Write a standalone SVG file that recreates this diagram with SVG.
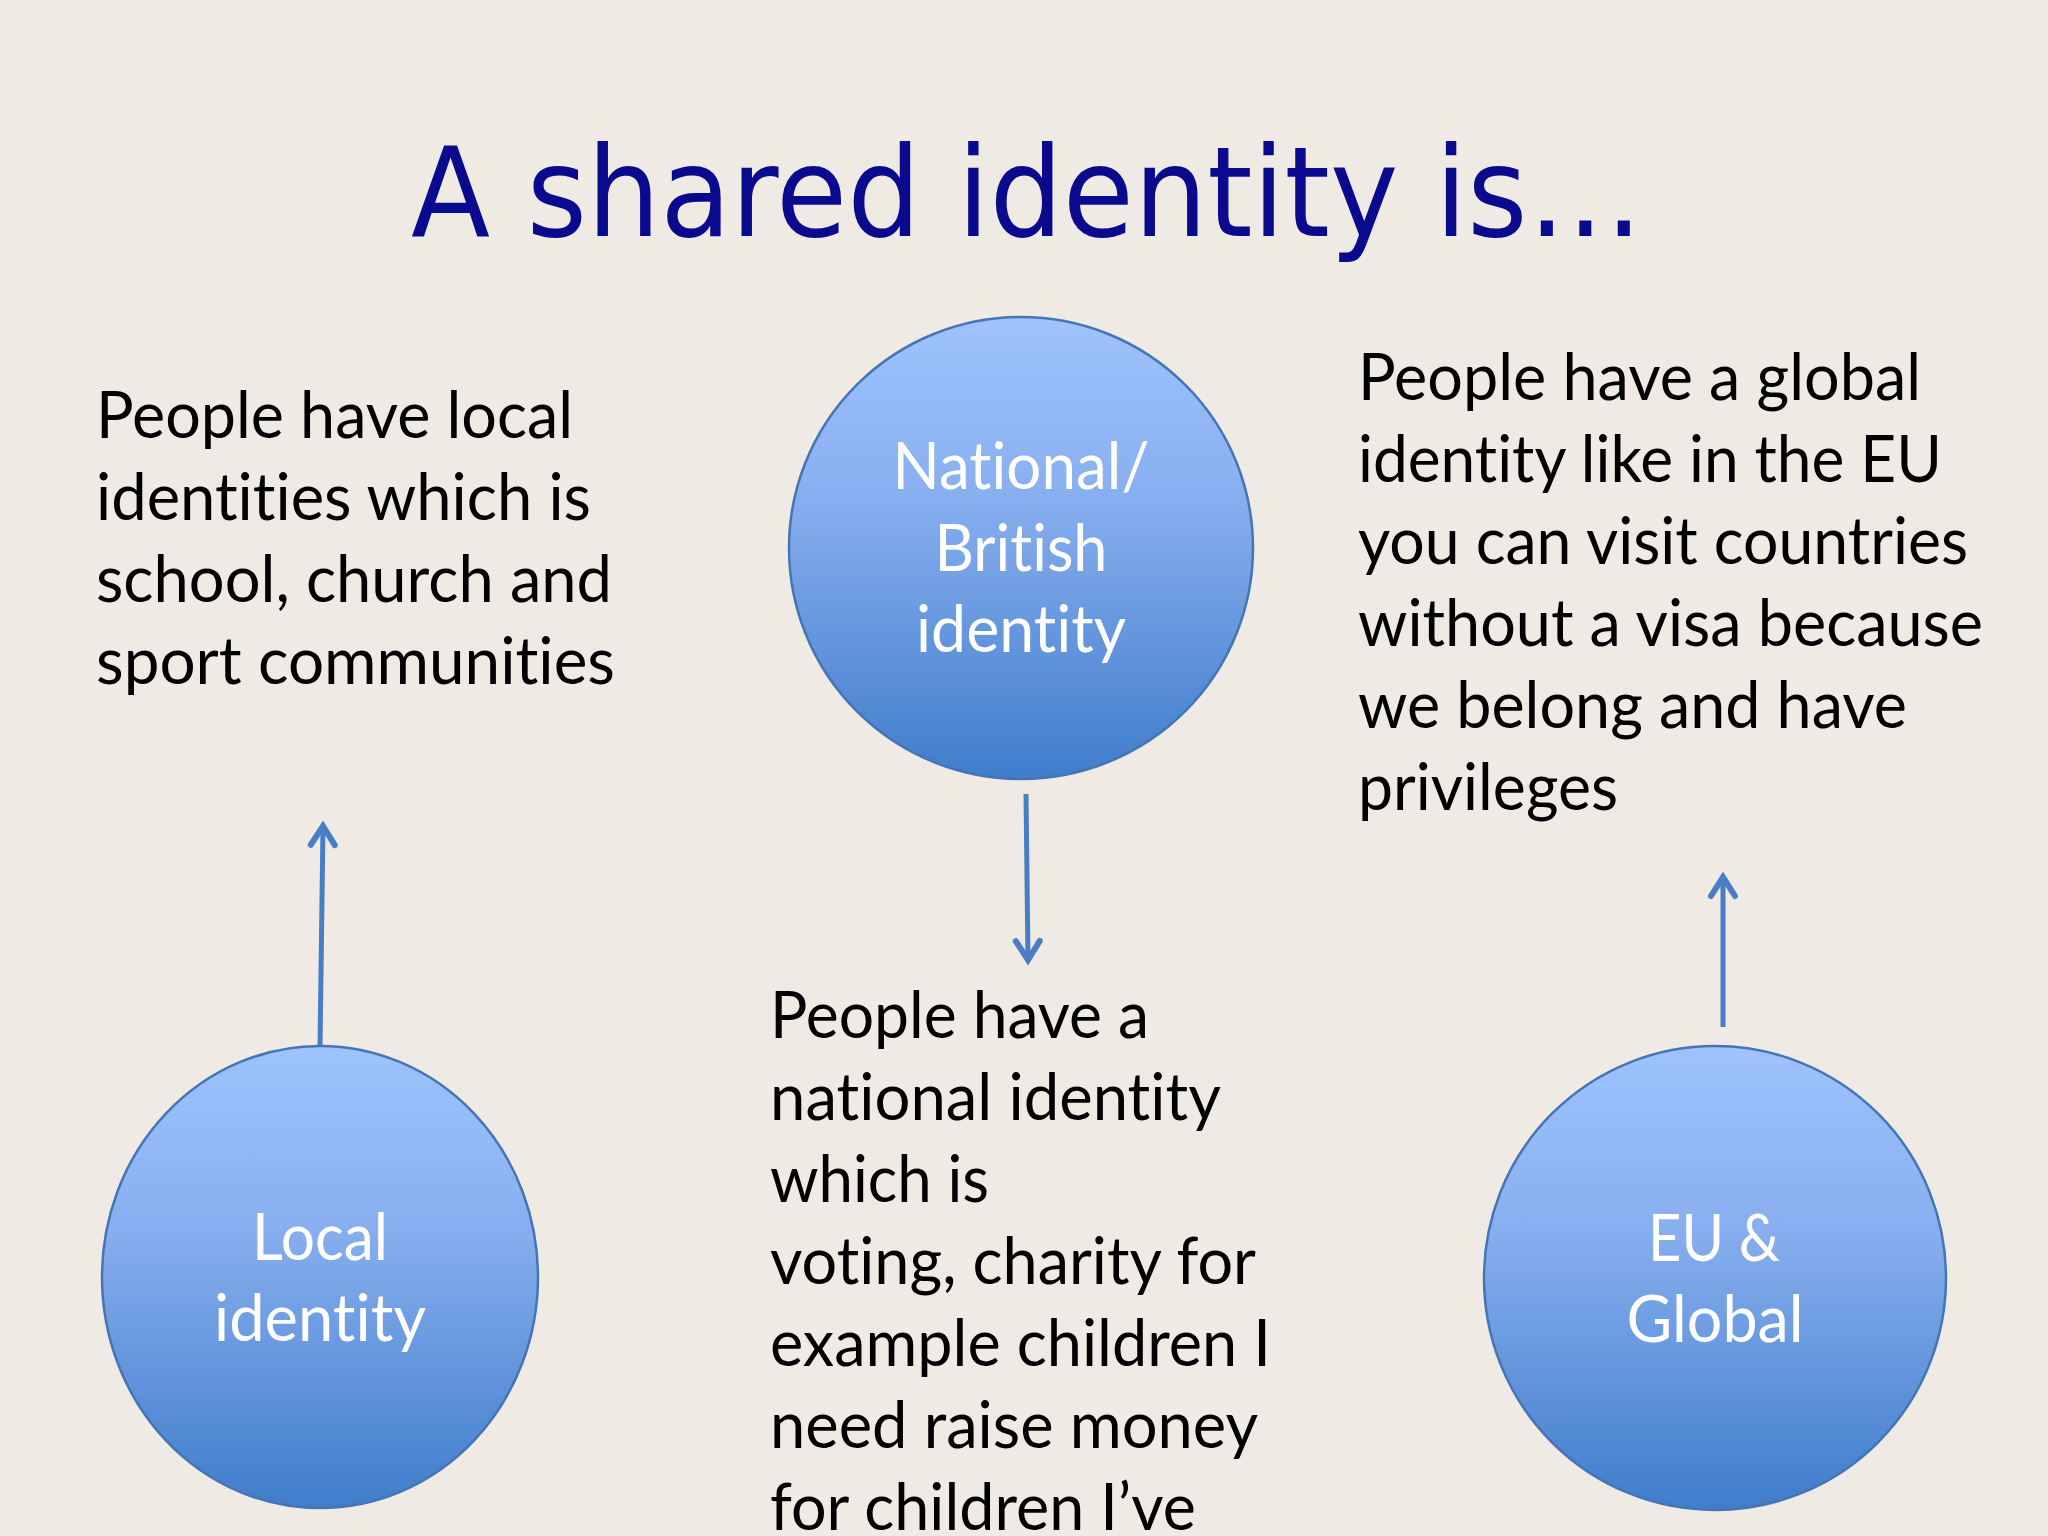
<svg xmlns="http://www.w3.org/2000/svg" width="2048" height="1536" viewBox="0 0 2048 1536">
  <defs>
    <linearGradient id="bubble" x1="0" y1="0" x2="0" y2="1">
      <stop offset="0" stop-color="#9EC3FE"/>
      <stop offset="0.4" stop-color="#87AEEE"/>
      <stop offset="1" stop-color="#3F7DCB"/>
    </linearGradient>
    <marker id="arrow" markerUnits="userSpaceOnUse" markerWidth="60" markerHeight="60" viewBox="-30 -30 60 60" refX="0" refY="0" orient="auto" overflow="visible">
      <path d="M -19 -12 L 0 0 L -19 12" fill="none" stroke="#4A7EC4" stroke-width="6" stroke-linecap="round" stroke-linejoin="miter"/>
    </marker>
    <style>
      .bg { fill: #EFEBE4; }
      .title { font-family: "DejaVu Sans", "Liberation Sans", sans-serif; font-size: 124px; fill: #0A0A8E; }
      .node { fill: url(#bubble); stroke: #4575B4; stroke-width: 2.5; }
      .label { font-family: Lato, "Open Sans", sans-serif; font-size: 66px; fill: #FFFFFF; text-anchor: middle; font-variant-ligatures: none; font-feature-settings: "liga" 0, "clig" 0; }
      .body { font-family: Lato, "Open Sans", sans-serif; font-size: 66px; fill: #000000; font-variant-ligatures: none; font-feature-settings: "liga" 0, "clig" 0; }
      .conn { stroke: #4A7EC4; stroke-width: 5; fill: none; marker-end: url(#arrow); }
    </style>
  </defs>

  <rect class="bg" x="0" y="0" width="2048" height="1536"/>

  <text id="title" class="title" x="411" y="236" textLength="1232" lengthAdjust="spacingAndGlyphs">A shared identity is…</text>

  <g id="connectors">
    <line class="conn" x1="320" y1="1047" x2="323" y2="826"/>
    <line class="conn" x1="1026" y1="794" x2="1028" y2="960"/>
    <line class="conn" x1="1723" y1="1027" x2="1723" y2="877"/>
  </g>

  <g id="node-national">
    <ellipse class="node" cx="1021" cy="548" rx="232" ry="231"/>
    <text class="label" x="1021" y="489" textLength="257" lengthAdjust="spacingAndGlyphs">National/</text>
    <text class="label" x="1021" y="571" textLength="173" lengthAdjust="spacingAndGlyphs">British</text>
    <text class="label" x="1021" y="652" textLength="210" lengthAdjust="spacingAndGlyphs">identity</text>
  </g>

  <g id="node-local">
    <ellipse class="node" cx="320" cy="1277" rx="218" ry="231"/>
    <text class="label" x="320" y="1260" textLength="136" lengthAdjust="spacingAndGlyphs">Local</text>
    <text class="label" x="320" y="1341" textLength="212" lengthAdjust="spacingAndGlyphs">identity</text>
  </g>

  <g id="node-global">
    <ellipse class="node" cx="1715" cy="1278" rx="231" ry="232"/>
    <text class="label" x="1714" y="1261" textLength="132" lengthAdjust="spacingAndGlyphs">EU &amp;</text>
    <text class="label" x="1715" y="1342" textLength="177" lengthAdjust="spacingAndGlyphs">Global</text>
  </g>

  <g id="text-local">
    <text class="body" x="96" y="438" textLength="477" lengthAdjust="spacingAndGlyphs">People have local</text>
    <text class="body" x="96" y="520" textLength="495" lengthAdjust="spacingAndGlyphs">identities which is</text>
    <text class="body" x="96" y="602" textLength="516" lengthAdjust="spacingAndGlyphs">school, church and</text>
    <text class="body" x="96" y="684" textLength="519" lengthAdjust="spacingAndGlyphs">sport communities</text>
  </g>

  <g id="text-global">
    <text class="body" x="1358" y="400" textLength="563" lengthAdjust="spacingAndGlyphs">People have a global</text>
    <text class="body" x="1358" y="482" textLength="584" lengthAdjust="spacingAndGlyphs">identity like in the EU</text>
    <text class="body" x="1358" y="564" textLength="610" lengthAdjust="spacingAndGlyphs">you can visit countries</text>
    <text class="body" x="1358" y="646" textLength="625" lengthAdjust="spacingAndGlyphs">without a visa because</text>
    <text class="body" x="1358" y="728" textLength="549" lengthAdjust="spacingAndGlyphs">we belong and have</text>
    <text class="body" x="1358" y="810" textLength="260" lengthAdjust="spacingAndGlyphs">privileges</text>
  </g>

  <g id="text-national">
    <text class="body" x="770" y="1038" textLength="379" lengthAdjust="spacingAndGlyphs">People have a</text>
    <text class="body" x="770" y="1120" textLength="451" lengthAdjust="spacingAndGlyphs">national identity</text>
    <text class="body" x="770" y="1202" textLength="219" lengthAdjust="spacingAndGlyphs">which is</text>
    <text class="body" x="770" y="1284" textLength="486" lengthAdjust="spacingAndGlyphs">voting, charity for</text>
    <text class="body" x="770" y="1366" textLength="501" lengthAdjust="spacingAndGlyphs">example children I</text>
    <text class="body" x="770" y="1448" textLength="488" lengthAdjust="spacingAndGlyphs">need raise money</text>
    <text class="body" x="770" y="1530" textLength="426" lengthAdjust="spacingAndGlyphs">for children I’ve</text>
  </g>
</svg>
